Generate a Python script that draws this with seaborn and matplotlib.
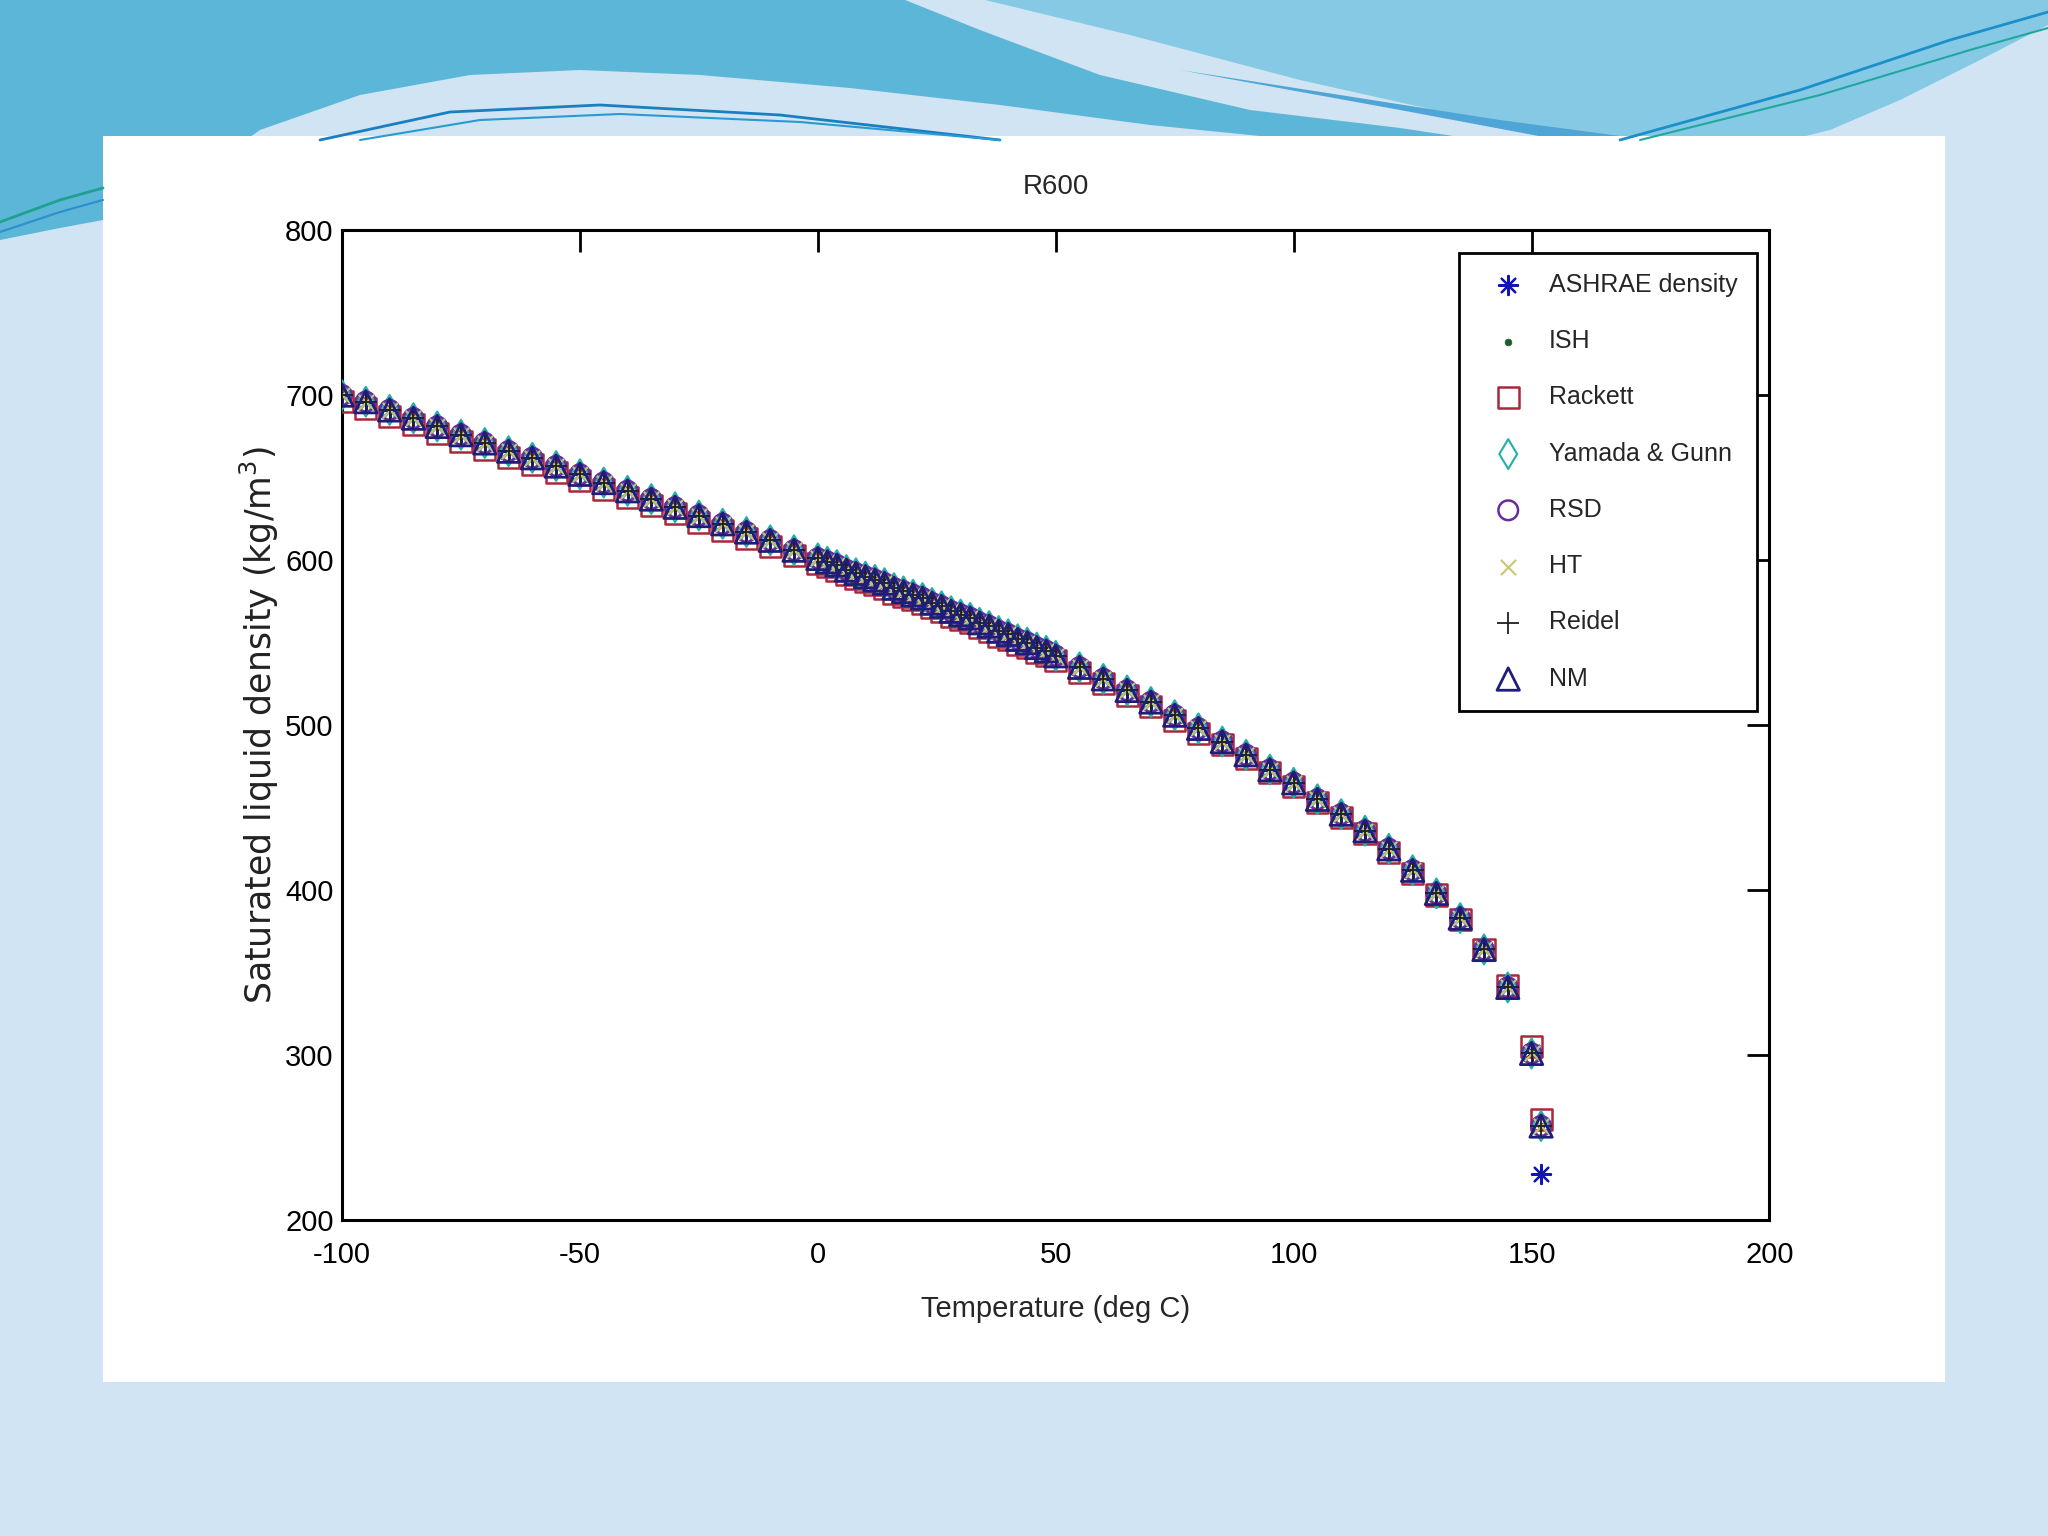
import numpy as np
import pandas as pd
import matplotlib
matplotlib.use("Agg")
import matplotlib.pyplot as plt
from matplotlib.patches import Rectangle, Polygon
import seaborn as sns

# ---------------- data ----------------
temperature = [-100, -95, -90, -85, -80, -75, -70, -65, -60, -55, -50, -45, -40, -35, -30,
               -25, -20, -15, -10, -5, 0,
               2, 4, 6, 8, 10, 12, 14, 16, 18, 20, 22, 24, 26, 28, 30, 32, 34, 36, 38, 40,
               42, 44, 46, 48, 50,
               55, 60, 65, 70, 75, 80, 85, 90, 95, 100, 105, 110, 115, 120, 125, 130, 135,
               140, 145, 150, 152]

ashrae = [700, 696, 691, 686, 681, 676, 671, 666, 662, 657, 652, 647, 642, 637, 632,
          627, 622, 617, 612, 606, 601,
          599, 597, 594, 592, 590, 588, 586, 583, 581, 579, 577, 574, 572, 569, 567, 565,
          562, 560, 557, 555, 552, 550, 547, 545, 542,
          535, 528, 521, 514, 506, 498, 490, 482, 473, 465, 455, 446, 436, 425, 412, 398,
          383, 364, 341, 302, 228]

models = [700, 696, 691, 686, 681, 676, 671, 666, 662, 657, 652, 647, 642, 637, 632,
          627, 622, 617, 612, 606, 601,
          599, 597, 594, 592, 590, 588, 586, 583, 581, 579, 577, 574, 572, 569, 567, 565,
          562, 560, 557, 555, 552, 550, 547, 545, 542,
          535, 528, 521, 514, 506, 498, 490, 482, 473, 465, 455, 446, 436, 425, 412, 398,
          383, 364, 341, 301, 257]

rackett = [696, 692, 687, 682, 677, 672, 667, 662, 658, 653, 648, 643, 638, 633, 628,
           623, 618, 613, 608, 603, 598,
           596, 594, 591, 589, 587, 585, 583, 580, 578, 576, 574, 571, 569, 566, 564, 562,
           559, 557, 554, 552, 549, 547, 544, 542, 539,
           532, 525, 518, 511, 503, 495, 488, 480, 471, 463, 453, 444, 434, 423, 410, 397,
           382, 364, 342, 305, 261]

series_names = ["ASHRAE density", "ISH", "Rackett", "Yamada & Gunn", "RSD", "HT", "Reidel", "NM"]
series_values = [ashrae, models, rackett, models, models, models, models, models]

title = "R600"
x_label = "Temperature (deg C)"
y_label = "Saturated liquid density (kg/m$^3$)"
x_ticks = [-100, -50, 0, 50, 100, 150, 200]
y_ticks = [200, 300, 400, 500, 600, 700, 800]

# ---------------- styles ----------------
styles = {
    "ASHRAE density": dict(marker=(8, 2, 0), color="#1414b4", fill=None, s=190, lw=1.6),
    "ISH": dict(marker="o", color="#1e5e2e", fill=True, s=24, lw=0.5),
    "Rackett": dict(marker="s", color="#a8283c", fill=False, s=230, lw=1.8),
    "Yamada & Gunn": dict(marker="d", color="#22b0a8", fill=False, s=230, lw=1.5),
    "RSD": dict(marker="o", color="#6a2aa0", fill=False, s=200, lw=1.8),
    "HT": dict(marker="x", color="#c8c870", fill=None, s=120, lw=1.5),
    "Reidel": dict(marker="+", color="#202020", fill=None, s=240, lw=1.3),
    "NM": dict(marker="^", color="#1e1e78", fill=False, s=260, lw=2.0),
}

sns.set_theme(style="white")
mainfont = ["Liberation Sans", "DejaVu Sans"]
plt.rcParams["font.family"] = mainfont

fig = plt.figure(figsize=(20.48, 15.36), dpi=100)
fig.patch.set_facecolor("#d0e4f3")

# background decoration (slide)
bg = fig.add_axes([0, 0, 1, 1], zorder=-10)
bg.set_xlim(0, 2048)
bg.set_ylim(1536, 0)
bg.axis("off")
blue_left = [(0, 0), (905, 0), (980, 30), (1100, 75), (1250, 110), (1400, 128),
             (1480, 140), (1300, 140), (1150, 125), (1000, 105), (850, 88), (700, 75),
             (580, 70), (470, 75), (360, 95), (260, 130), (190, 180), (130, 215),
             (60, 228), (0, 240)]
bg.add_patch(Polygon(blue_left, closed=True, facecolor="#5cb6d8", edgecolor="none"))
blue_right = [(985, 0), (2048, 0), (2048, 25), (1980, 60), (1900, 100), (1830, 130),
              (1790, 140), (1560, 140), (1470, 118), (1300, 80), (1130, 35)]
bg.add_patch(Polygon(blue_right, closed=True, facecolor="#86c9e4", edgecolor="none"))
bg.add_patch(Polygon([(1180, 70), (1400, 110), (1560, 140), (1650, 140), (1500, 120)],
                     closed=True, facecolor="#4fa6d6", edgecolor="none"))
bg.plot([320, 450, 600, 780, 1000], [140, 112, 105, 115, 140], color="#1a7fc0", lw=2)
bg.plot([360, 480, 620, 800, 1000], [140, 120, 114, 122, 140], color="#2a9ad0", lw=1.5)
bg.plot([1620, 1800, 1950, 2048], [140, 90, 40, 12], color="#1a8fc8", lw=2)
bg.plot([1640, 1820, 1970, 2048], [140, 95, 50, 28], color="#20a8a0", lw=1.5)
bg.plot([0, 60, 103], [222, 200, 188], color="#20a090", lw=2)
bg.plot([0, 60, 103], [232, 212, 200], color="#2a8fd0", lw=1.5)
# white panel
bg.add_patch(Rectangle((103, 136), 1842, 1246, facecolor="white", edgecolor="none"))

ax = fig.add_axes([0.167, 0.2057, 0.697, 0.6445])
ax.set_facecolor("white")

for name, vals in zip(series_names, series_values):
    st = styles[name]
    df = pd.DataFrame({"T": temperature, "rho": vals})
    if st["fill"] is None:
        sns.scatterplot(data=df, x="T", y="rho", ax=ax, marker=st["marker"], s=st["s"],
                        color=st["color"], linewidth=st["lw"], label=name, zorder=3)
    elif st["fill"]:
        sns.scatterplot(data=df, x="T", y="rho", ax=ax, marker=st["marker"], s=st["s"],
                        color=st["color"], edgecolor=st["color"], linewidth=st["lw"],
                        label=name, zorder=3)
    else:
        sns.scatterplot(data=df, x="T", y="rho", ax=ax, marker=st["marker"], s=st["s"],
                        color=st["color"], facecolor="none", edgecolor=st["color"],
                        linewidth=st["lw"], label=name, zorder=3)

ax.set_xlim(-100, 200)
ax.set_ylim(200, 800)
ax.set_xticks(x_ticks)
ax.set_yticks(y_ticks)
ax.set_xticklabels([str(v) for v in x_ticks])
ax.set_yticklabels([str(v) for v in y_ticks])
ax.tick_params(direction="in", length=16, width=2, top=True, right=True,
               labelsize=21, colors="black")
ax.tick_params(axis="x", pad=15)
ax.tick_params(axis="y", pad=6)
for sp in ax.spines.values():
    sp.set_visible(True)
    sp.set_color("black")
    sp.set_linewidth(2.2)

ax.set_title(title, fontsize=20, pad=26)
ax.set_xlabel(x_label, fontsize=21, labelpad=19)
ax.set_ylabel(y_label, fontsize=25, family=["DejaVu Sans"], color="#222222")
ax.yaxis.set_label_coords(-0.043, 0.5)

leg = ax.legend(loc="upper right", bbox_to_anchor=(0.9916, 0.977), frameon=True,
                fancybox=False, fontsize=18, borderpad=0.8, labelspacing=1.29,
                handletextpad=0.45, handlelength=2.35, borderaxespad=0)
leg.get_frame().set_edgecolor("black")
leg.get_frame().set_linewidth(2)
leg.get_frame().set_alpha(1)

fig.savefig("out.png", dpi=100, facecolor=fig.get_facecolor())
